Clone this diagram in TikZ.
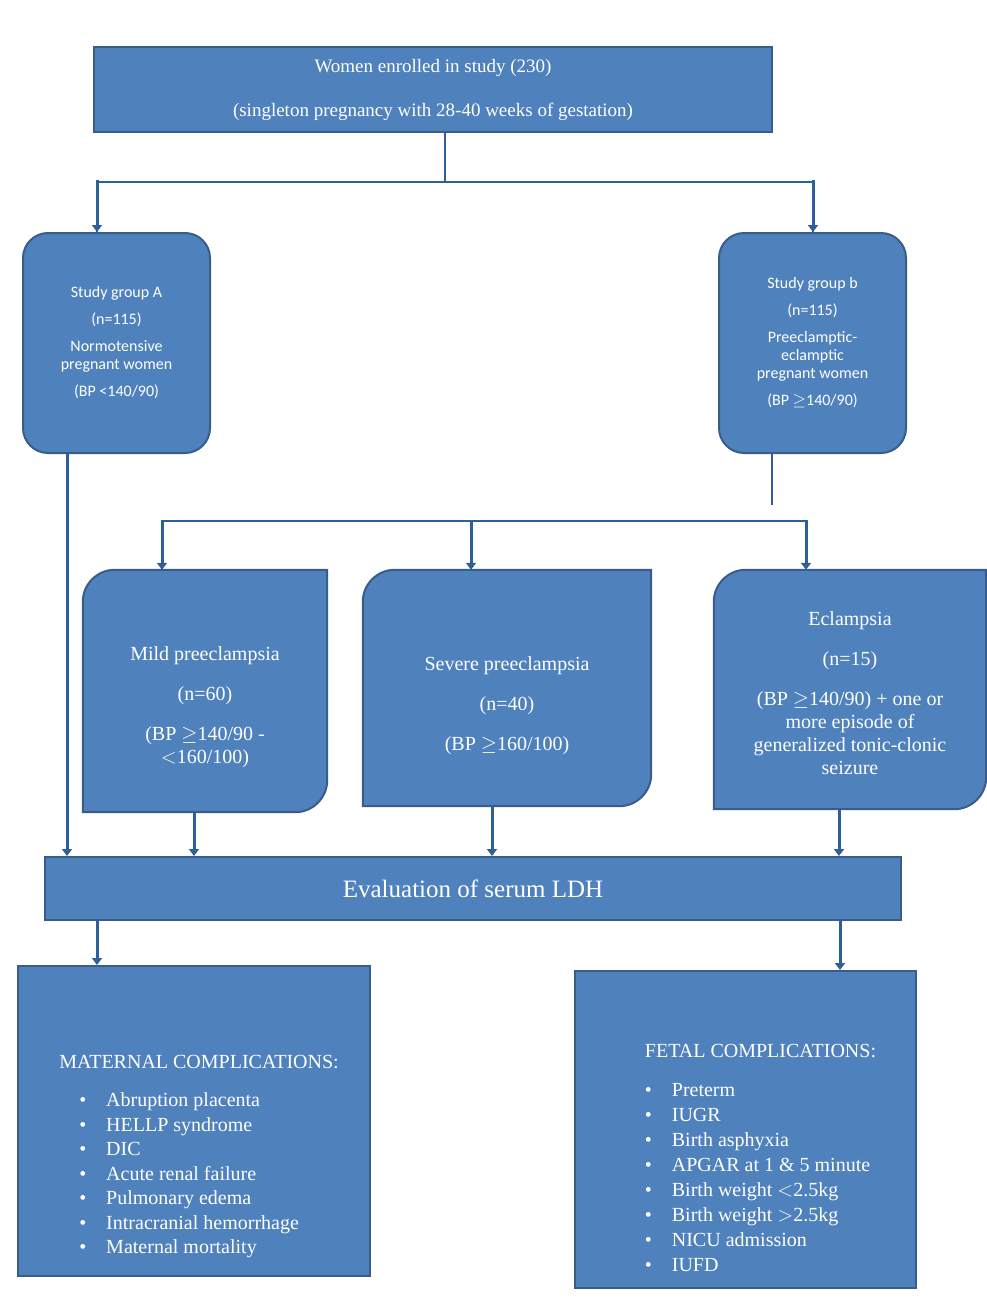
\documentclass[tikz,border=0pt]{standalone}
\usepackage{fontspec}
\setmainfont{Liberation Serif}
\newfontfamily\sansfont{Carlito}
\usetikzlibrary{positioning}
\usetikzlibrary{calc}
\usetikzlibrary{arrows.meta, backgrounds}
\definecolor{boxfill}{HTML}{4F81BD}
\definecolor{boxline}{HTML}{385D8A}
\definecolor{linkcol}{HTML}{2F5F98}
\begin{document}
\begin{tikzpicture} [x=1pt, y=-1pt]
    % styles for the boxes and the links
    \tikzstyle{flat} = [draw=boxline, fill=boxfill, line width=2pt, text=white, align=center, inner sep=0pt]
    \tikzstyle{round} = [flat, rounded corners=25pt, font=\sansfont\fontsize{16}{23}\selectfont]
    \tikzstyle{leaf} = [text=white, align=center, inner sep=0pt, font=\fontsize{20}{23}\selectfont]
    \tikzstyle{leafshape} = [draw=boxline, fill=boxfill, line width=2pt]
    \tikzstyle{link} = [draw=linkcol, line width=1.5pt]
    \tikzstyle{go} = [draw=linkcol, line width=3pt, -{Triangle[length=7pt,width=10pt]}]

    \useasboundingbox (0,0) rectangle (986,1298);

    % top box
    \node (enrol) [flat, minimum width=678pt, minimum height=85pt,
        font=\fontsize{19}{44}\selectfont] at (433,89.5)
        {Women enrolled in study (230)\\(singleton pregnancy with 28-40 weeks of gestation)};

    % study groups
    \node (grpA) [round, minimum width=187pt, minimum height=220pt] at (116.5,343)
        {Study group A\\[4pt](n=115)\\[4pt]Normotensive\\[-5pt]pregnant women\\[4pt](BP <140/90)};
    \node (grpB) [round, minimum width=187pt, minimum height=220pt] at (812.5,343)
        {Study group b\\[4pt](n=115)\\[4pt]Preeclamptic-\\[-5pt]eclamptic\\[-5pt]pregnant women\\[4pt](BP $\geq$140/90)};

    % subgroups of group b
    \node (mild) [leaf, minimum width=244pt, minimum height=242pt, text height=150pt] at (205,691)
        {Mild preeclampsia\\[17pt](n=60)\\[17pt](BP $\geq$140/90 -\\$<$160/100)};
    \node (severe) [leaf, minimum width=288pt, minimum height=236pt, text height=130pt] at (507,688)
        {Severe preeclampsia\\[17pt](n=40)\\[17pt](BP $\geq$160/100)};
    \node (eclam) [leaf, minimum width=272pt, minimum height=239pt, text height=170pt] at (850,689.5)
        {Eclampsia\\[17pt](n=15)\\[17pt](BP $\geq$140/90) + one or\\more episode of\\generalized tonic-clonic\\seizure};
    \begin{scope}[on background layer]
        \foreach \b in {mild, severe, eclam} {
            \filldraw[leafshape] (\b.south west) -- ([yshift=-32pt]\b.north west)
                arc[start angle=180, end angle=90, radius=32pt] -- (\b.north east)
                -- ([yshift=32pt]\b.south east)
                arc[start angle=0, end angle=-90, radius=32pt] -- cycle;
        }
    \end{scope}

    % evaluation
    \node (ldh) [flat, minimum width=856pt, minimum height=63pt,
        font=\fontsize{25}{30}\selectfont] at (473,888.5) {Evaluation of serum LDH};

    % complications
    \node (mat) [flat, minimum width=352pt, minimum height=310pt, align=left,
        font=\fontsize{20}{24.5}\selectfont, text height=270pt] at (194,1121)
        {\hspace*{10pt}MATERNAL COMPLICATIONS:\\[14pt]
         \hspace*{30pt}\textbullet\hspace{20pt}Abruption placenta\\
         \hspace*{30pt}\textbullet\hspace{20pt}HELLP syndrome\\
         \hspace*{30pt}\textbullet\hspace{20pt}DIC\\
         \hspace*{30pt}\textbullet\hspace{20pt}Acute renal failure\\
         \hspace*{30pt}\textbullet\hspace{20pt}Pulmonary edema\\
         \hspace*{30pt}\textbullet\hspace{20pt}Intracranial hemorrhage\\
         \hspace*{30pt}\textbullet\hspace{20pt}Maternal mortality};
    \node (fet) [flat, minimum width=341pt, minimum height=317pt, align=left,
        font=\fontsize{20}{25}\selectfont, text height=285pt] at (745.5,1129.5)
        {\hspace*{30pt}FETAL COMPLICATIONS:\\[14pt]
         \hspace*{30pt}\textbullet\hspace{20pt}Preterm\\
         \hspace*{30pt}\textbullet\hspace{20pt}IUGR\\
         \hspace*{30pt}\textbullet\hspace{20pt}Birth asphyxia\\
         \hspace*{30pt}\textbullet\hspace{20pt}APGAR at 1 \& 5 minute\\
         \hspace*{30pt}\textbullet\hspace{20pt}Birth weight $<$2.5kg\\
         \hspace*{30pt}\textbullet\hspace{20pt}Birth weight $>$2.5kg\\
         \hspace*{30pt}\textbullet\hspace{20pt}NICU admission\\
         \hspace*{30pt}\textbullet\hspace{20pt}IUFD};

    % links from the top box
    \coordinate (split1) at (445,182);
    \coordinate (open) at (772,505);
    \coordinate (split2) at (471,521);
    \draw[link] (enrol.south -| split1) -- (split1);
    \draw[link] (grpA.north -| 97,0) |- (split1) -| (grpB.north -| 813,0);
    \draw[go] (97,180) -- (grpA.north -| 97,0);
    \draw[go] (813,180) -- (grpB.north -| 813,0);
    \draw[link] (grpB.south -| open) -- (open);

    % links to the subgroups
    \draw[link] (162,521) -| (806,540);
    \draw[go] (162,520) -- (mild.north -| 162,0);
    \draw[go] (split2) -- (severe.north -| split2);
    \draw[go] (806,520) -- (eclam.north -| 806,0);

    % links to the evaluation
    \draw[go] (grpA.south -| 67,0) -- (ldh.north -| 67,0);
    \draw[go] (mild.south -| 194,0) -- (ldh.north -| 194,0);
    \draw[go] (severe.south -| 492,0) -- (ldh.north -| 492,0);
    \draw[go] (eclam.south -| 839,0) -- (ldh.north -| 839,0);
    \draw[go] (ldh.south -| 97,0) -- (mat.north -| 97,0);
    \draw[go] (ldh.south -| 840,0) -- (fet.north -| 840,0);
\end{tikzpicture}
\end{document}
